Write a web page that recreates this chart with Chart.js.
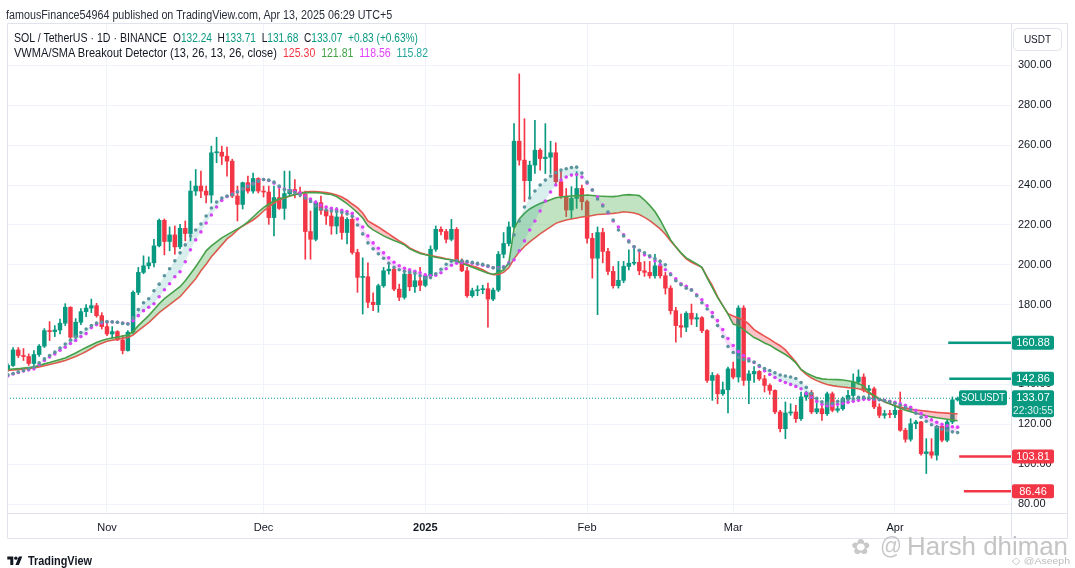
<!DOCTYPE html>
<html>
<head>
<meta charset="utf-8">
<title>SOL / TetherUS 1D</title>
<script src="https://cdn.jsdelivr.net/npm/chart.js@4.4.1/dist/chart.umd.min.js"></script>
<style>
  html, body { margin: 0; padding: 0; background: #fff; }
  body { width: 1075px; height: 568px; position: relative; overflow: hidden; font-family: 'Liberation Sans', 'Noto Sans', sans-serif; color: #131722; }
  #chart { position: absolute; left: 0; top: 0; }
  .t { position: absolute; white-space: pre; transform-origin: 0 50%; line-height: 1; }
  .up { color: #089981; }
</style>
</head>
<body>
<canvas id="chart" width="1075" height="568"></canvas>

<div class="t" data-w="386" style="left:6px;top:15px;font-size:12.5px;color:#2a2e39">famousFinance54964 published on TradingView.com, Apr 13, 2025 06:29 UTC+5</div>
<div class="t" data-w="153" style="left:14px;top:38px;font-size:12px">SOL / TetherUS · 1D · BINANCE</div>
<div class="t" id="ohlc" data-w="245" style="left:173px;top:38px;font-size:12px"></div>
<div class="t" data-w="263" style="left:14px;top:53px;font-size:12px">VWMA/SMA Breakout Detector (13, 26, 13, 26, close)</div>
<div class="t" id="maValues" data-w="145" style="left:283px;top:53px;font-size:12px"></div>

<svg style="position:absolute;left:7px;top:556px" width="16" height="9" viewBox="0 0 36 21">
  <path d="M14 21H7V8H0V1h14z M27 21h-8l8-20h8z" fill="#131722"/>
  <circle cx="20" cy="5" r="4" fill="#131722"/>
</svg>
<div class="t" data-w="64" style="left:28px;top:561px;font-size:12px;font-weight:bold">TradingView</div>

<div class="t" data-w="20" style="left:851px;top:546px;font-size:21px;color:#c8c8c8">✿</div>
<div class="t" data-w="22" style="left:880px;top:546px;font-size:23px;color:#c8c8c8">@</div>
<div class="t" data-w="161" style="left:907px;top:546px;font-size:25px;color:#c4c4c4;text-shadow:0 0 2px #fff">Harsh dhiman</div>
<div class="t" data-w="58" style="left:1012px;top:561px;font-size:9.5px;color:#bdbdbd">◇ @Aseeph</div>

<script>
// daily candles from 2024-10-12 (index 0) to 2025-04-13 (index 183)
const monthTickIdx = [20, 50, 81, 112, 140, 171];
const monthTickLabels = ['Nov', 'Dec', '2025', 'Feb', 'Mar', 'Apr'];
const priceTicks = [80, 100, 120, 140, 160, 180, 200, 220, 240, 260, 280, 300];

const opens = [
  145,147.5,149.5,157.3,154.5,154,150.5,155,159.2,167,
  166.5,167.3,170.7,178.7,163.7,171.2,176.5,178.3,179.5,174.5,
  169,165.3,166.5,162.3,157,166.2,186.2,196.2,199.5,201,
  209.5,222.3,211.7,215,209,218.3,215.7,237,239.5,237,
  235,256.2,256.5,254.5,252,234.5,230.3,241.2,237,243.3,
  237,236.5,223.7,233.7,228.3,235.7,237.8,236.5,235.5,216.7,
  212.8,231.2,227.3,224.5,219.5,224,216.2,222.8,206.2,193.7,
  194,181.2,180,189.5,197,197.8,187.8,183.7,195.3,189,
  192,189.7,194.5,207.8,217.8,216.7,212.8,217.8,202,197,
  184.5,187,187.5,188,182.8,187.3,205.3,210.7,219,262,
  252.5,242.2,250,257.5,253.3,254,256.2,241.7,234.5,227.5,
  233.3,238.3,231.7,213.3,203.3,216.2,206.7,196.7,189.5,192.2,
  199.2,200.8,201.2,197,196.2,194.5,199.5,194.5,188.3,177,
  169.5,168.7,175.7,172.8,173.5,167,142,144.5,135.3,137.3,
  147.8,143.7,178.3,142,145.3,146.5,142.8,139.5,137,126.2,
  117.8,125.7,126.2,122.8,133.7,135.8,126.2,127.8,125.3,135.3,
  127,127.8,132.8,134.5,141.2,143.7,137,137.8,128.7,124.5,
  125.3,124.9,127,117,112.5,120.3,121.2,105.3,106.2,104.5,
  119,112,121.2,132.24
];
const highs = [
  148.5,150.5,158.5,158.5,158,155.3,157,160,168,171.5,
  169.5,172.8,180.5,179,173,178,180,182.8,180.7,176,
  171,169,167,164.5,167,187,198.7,204.5,204,212.8,
  223,223,219,219.5,220.3,222,242,247.8,247,239.5,
  259.5,264,259.5,259,253,239.5,241.5,244.5,246,243.7,
  239.5,239.5,239.5,238.7,247,247,242.8,239,237,227,
  232,234.5,229.5,227,228.7,225.3,223.7,224,207.8,203.5,
  201,186,190.3,198.7,200.3,199,190.3,196.7,197.8,195.3,
  198.7,195.3,209.5,219.5,219,217.8,222.8,218.7,203,198.7,
  188.3,189.5,189.8,190.8,188.3,206.7,216.2,221.5,270.8,295.8,
  273.3,252,272.5,258.3,270.8,262,261.2,247.5,238.3,239.2,
  246.7,240,232.5,215.8,219,218.3,208.3,199.2,201.7,201.7,
  207.5,209.2,206.7,201.7,201.7,205.3,202.5,196.2,189.5,178.7,
  175.3,176.5,180.3,175.5,174,167.5,146,145.3,141.2,148.7,
  151.2,179.5,179.5,147,149,147,144.5,140.3,137.3,127,
  131.2,130.3,129.5,136.2,136.5,137,131.2,130.3,136.2,136.2,
  129,133.7,137,145.3,147.3,145.3,139.5,138.7,130.3,127,
  127,129.5,136.2,118,122.8,122,121.5,112.8,112.8,119.5,
  119.8,122,133.7,133.71
];
const lows = [
  144,146.5,149,153.5,152,149.5,149.5,154,158.5,162,
  164,165.3,169.5,163,162.5,170,174,176,173.7,167.8,
  164.5,163.3,162,155.3,156.7,165.5,185,195.5,198,199,
  209,205,207,205.3,208,212,212,234.8,233.7,231,
  231,251.2,250.3,244.5,233.7,222,228,236,236,236,
  234,220.3,214.5,227.8,222.8,234.3,233.5,234,202.8,202.8,
  212,225.3,220.3,215.3,215.5,212.8,210.5,205.3,186.2,175.3,
  178.5,177,176.2,188.7,195.3,187,182,182.8,187,186.2,
  187,189,193.7,206.7,215,211,212,201.2,196.5,183.7,
  183.7,184.5,185.5,168.7,182,186.5,203.5,209.5,218.3,250,
  231.7,234.2,245.8,247.5,245.8,245.8,240,233.3,224.2,223.3,
  228.3,227.5,210.8,193.3,175,201,195,188.3,188.3,191,
  197.5,200,195,194.2,193.3,193.3,193.3,185.3,175.3,161.2,
  163.7,166.5,170,169,166,141,132,130.3,134.5,125.7,
  142.8,141.2,139.5,130.3,141,142,136.2,135,125.3,116.2,
  112.8,124.5,121,122,132,125.3,125.3,122,124.5,126.2,
  126,127,132,133.7,140,136.2,134.5,127.8,123.3,123,
  123.3,123.3,116.5,111,111.5,117.8,104.5,95.3,103,102,
  111.2,111.2,120.3,131.68
];
const closes = [
  147.5,149.5,157.3,154.5,154,150.5,155,159.2,167,166.5,
  167.3,170.7,178.7,163.7,171.2,176.5,178.3,179.5,174.5,169,
  165.3,166.5,162.3,157,166.2,186.2,196.2,199.5,201,209.5,
  222.3,211.7,215,209,218.3,215.7,237,239.5,237,235,
  256.2,256.5,254.5,252,234.5,230.3,241.2,237,243.3,237,
  236.5,223.7,233.7,228.3,235.7,237.8,236.5,235.5,216.7,212.8,
  231.2,227.3,224.5,219.5,224,216.2,222.8,206.2,193.7,194,
  181.2,180,189.5,197,197.8,187.8,183.7,195.3,189,192,
  189.7,194.5,207.8,217.8,216.7,212.8,217.8,202,197,184.5,
  187,187.5,188,182.8,187.3,205.3,210.7,219,262,252.5,
  242.2,250,257.5,253.3,254,256.2,241.7,234.5,227.5,233.3,
  238.3,231.7,213.3,203.3,216.2,206.7,196.7,189.5,192.2,199.2,
  200.8,201.2,197,196.2,194.5,199.5,194.5,188.3,177,169.5,
  168.7,175.7,172.8,173.5,167,142,144.5,135.3,137.3,147.8,
  143.7,178.3,142,145.3,146.5,142.8,139.5,137,126.2,117.8,
  125.7,126.2,122.8,133.7,135.8,126.2,127.8,125.3,135.3,127,
  127.8,132.8,134.5,141.2,143.7,137,137.8,128.7,124.5,125.3,
  124.9,127,117,112.5,120.3,121.2,105.3,106.2,104.5,119,
  112,121.2,132.24,133.07
];

// indicator plots
const smaLong = [   // red line
  146.8,147,147.2,147.4,147.7,148,148.3,148.8,149.4,150,
  150.6,151.3,152,153,154,155.2,156.5,158,159.5,160.7,
  161.7,162.2,162.7,163.2,163.6,164.8,167,169,171,173.5,
  176,178,180,182,184,187,190,193,197,200.3,
  204,207,210,213,215,217.5,219.5,221,222.5,224.5,
  227,229,231,232.5,233.5,234.5,235.3,236,236.5,236.7,
  236.7,236.5,236.2,235.8,235,234,232.5,230.5,228.7,226,
  222,220.5,219,217.2,215.5,213.7,212,210.5,208.5,207.2,
  206,205.3,204.7,204.2,203.7,203,202.5,201.8,201,200.2,
  199.4,198.7,197.5,196,195,195.2,196.2,198.5,203,206.5,
  209.2,211.5,213.5,215.5,217.3,219,220.8,221.7,222.5,223,
  223.5,224,224.3,224.7,225.2,225.4,225.6,225.8,226.1,226.6,
  226.4,226,225.2,223.8,222.2,220.2,218,215.3,212,209,
  205.8,203,201.3,200,198.7,194,189.5,184,179.5,175.5,
  174.3,173.3,172.3,170.2,167.5,165.8,164.2,162.7,161,159.4,
  157.3,154.2,151.2,147.4,145,143.2,141.9,140.8,140,139.4,
  139,138.7,138.4,138.2,137.8,137.2,135.6,134.2,132.8,131.2,
  130.3,129.4,128.6,128,127.6,127.2,126.9,126.6,126.3,126,
  125.8,125.6,125.4,125.3
];
const vwmaLong = [  // green line
  147.3,147.5,147.7,147.9,148.2,148.5,148.8,149.5,150.3,151,
  151.8,152.5,153.3,154.5,155.8,157.2,158.5,159.8,161,162,
  162.8,163.3,163.8,164.3,164.8,166.5,169.5,172,174.5,177.5,
  180.5,183,185,187,189,192,195.5,199,203,207,
  209.5,211.5,213.5,215,216.5,218,219.5,221.5,224,226.5,
  228.7,230.5,232,233,233.8,234.5,235.2,235.8,236.2,236.3,
  236.2,236,235.6,235.3,234.2,232.5,230.7,228.5,226.2,223.5,
  219.5,217.5,216,214.5,213.3,212.2,211.2,210,208,206.8,
  205.7,205,204.4,203.8,203.3,202.8,202.5,201.8,200.8,199.8,
  198.8,197.8,196.8,195.8,195.3,196,197.5,201,218,223,
  225.8,228,229.5,230.8,231.7,232.6,233.6,234,234.3,234.5,
  234.7,234.8,235,234.8,234.5,234.4,234.3,234.2,234.5,235,
  235.2,235,234.7,232.5,229.8,226.7,222.5,217.5,212.5,209,
  206,203.5,202,200.5,198.7,193.5,188.5,183.7,179.5,175.3,
  170.3,169.5,167.5,165.5,163.5,162.3,160.8,159.7,158,156.5,
  155,153.2,150.8,147.5,145.8,144.5,143.4,142.8,142.6,142.5,
  142.4,142.2,141.8,141.3,140.5,139.3,136.3,134.3,132.8,131.4,
  130.3,129.2,128,127.1,126.3,125.5,124.9,124.3,123.7,123.3,
  122.9,122.5,122.1,121.81
];
const smaShort = [  // magenta dots
  143.5,144.3,145.2,146,146.7,147.3,147.8,150,152,153.8,
  155.3,157.2,158.7,160.5,162,164,165.5,168.5,170,170.8,
  171.3,171.3,171.2,170.8,170.4,172,174.5,177,178.7,180.5,
  184,187.5,190.5,194,196.5,201.5,207.5,212.5,216.5,221,
  225,229,232.3,234.3,235.5,236.7,238,239.5,240.8,242,
  242.8,242.3,241,239,238,237.2,236.8,236,234.5,233,
  231.5,230,229,228.3,227.8,227.3,226.7,225.8,223,219,
  214.5,211,208.3,206,203.5,201.3,199.5,198.3,197.5,196.8,
  196,195,194.5,194.8,196,198,199.8,200.8,201.2,201.2,
  200.8,200.3,199.8,199.2,198.5,198.5,199,201,202.5,207,
  212,217.5,222,227,232,236.5,240,242.5,244,245,
  245.3,244,241,237.5,234,230,226,222,219,215,
  212,209,207,205,204,202,200,197.5,195.5,193,
  190.5,189.2,187.5,185,182.5,179.5,176,172,167.5,163,
  159.5,156.5,154.5,152.8,151,149,146.8,145,143.5,142,
  141,140,139,137.8,135.5,133.5,131.5,130,129.3,129.5,
  130,130.5,131,131.5,132,132.5,132.5,132.5,132.3,132,
  131.5,131,130.3,129.5,128.5,127,125.5,123.8,122.2,121,
  120,119.3,118.8,118.56
];
const vwmaShort = [ // teal dots
  144,144.8,145.5,146.2,147,147.8,148.7,150.8,152.8,154.5,
  156.2,158.3,160.3,162.2,164,166,167.8,169.5,170.8,171.3,
  171.5,171.4,171.2,170.6,170.3,173.5,177.5,181,183,187,
  190.3,194.5,198,202,206,210,214.5,217.5,220.5,224.5,
  228.5,231.5,233.5,234.5,235.2,236.5,238,239.3,240.5,242,
  242.8,242.5,241.5,239.5,237.8,237,236.2,235,233.5,231.8,
  229.5,228,227.5,227,226.7,226.2,225.5,224.3,220,215.5,
  211,208,205.5,203.3,200.8,198.7,197.5,196.8,196.2,195.7,
  194.5,193.2,193.5,195.5,197.8,200.3,201.8,202.2,202,201.7,
  201.2,200.7,200.2,199.5,198.5,198.3,198.7,200.5,215,222,
  229,233.5,237,240,242.5,244.5,246.3,247.5,248.2,248.8,
  249,246,241.5,237.5,233,229.5,226.5,222.5,217.5,214.5,
  211.5,209,207.3,206,204.5,203.2,201.8,200,195,192,
  190,188.3,187.3,184.5,181,177.8,174,169.5,164,159,
  156,153.5,152.5,151.8,151.2,149.5,148,147,145.8,144.7,
  144.2,143.7,143,141,138.5,135.5,133,131.3,130.5,130.5,
  131.5,132.2,132.5,132.8,133.5,133.7,133.3,132.8,132.3,131.8,
  131.3,130.5,129.5,128.5,127.3,125.5,123.5,121.5,119.8,118.5,
  117.5,116.8,116.2,115.82
];

// target / stop levels marked at the right edge
const levelValues = [160.88, 142.86, 103.81, 86.46];
const levelIsUp = [true, true, false, false];
const countdown = '22:30:55';

const UP = '#089981';
const DOWN = '#f23645';
const X_MIN = 0.84;
const X_MAX = 193.23;
const levelStart = [181.2, 181.4, 183.3, 184.2];

const last = closes.length - 1;
const change = closes[last] - closes[last - 1];

document.getElementById('ohlc').innerHTML =
  `O<span class="up">${opens[last].toFixed(2)}</span>  H<span class="up">${highs[last].toFixed(2)}</span>  ` +
  `L<span class="up">${lows[last].toFixed(2)}</span>  C<span class="up">${closes[last].toFixed(2)}</span>  ` +
  `<span class="up">+${change.toFixed(2)} (+${(change / closes[last - 1] * 100).toFixed(2)}%)</span>`;
document.getElementById('maValues').innerHTML =
  `<span style="color:#f23645">${smaLong[last].toFixed(2)}</span>  ` +
  `<span style="color:#43a047">${vwmaLong[last].toFixed(2)}</span>  ` +
  `<span style="color:#e040fb">${smaShort[last].toFixed(2)}</span>  ` +
  `<span style="color:#26a69a">${vwmaShort[last].toFixed(2)}</span>`;

const candleColor = ctx => closes[ctx.dataIndex] >= opens[ctx.dataIndex] ? UP : DOWN;
const toPoints = arr => arr.map((v, i) => ({ x: i, y: v }));

const levelSets = levelValues.map((v, k) => ({
  type: 'line',
  data: [{ x: levelStart[k], y: v }, { x: X_MAX, y: v }],
  borderColor: levelIsUp[k] ? UP : DOWN,
  borderWidth: 2.5,
  pointRadius: 0,
  order: 1
}));

function roundRect(ctx, x, y, w, h, r) {
  ctx.beginPath();
  ctx.moveTo(x + r, y);
  ctx.arcTo(x + w, y, x + w, y + h, r);
  ctx.arcTo(x + w, y + h, x, y + h, r);
  ctx.arcTo(x, y + h, x, y, r);
  ctx.arcTo(x, y, x + w, y, r);
  ctx.closePath();
}

const overlay = {
  id: 'overlay',
  afterDraw(chart) {
    const { ctx, chartArea: a } = chart;
    const yScale = chart.scales.y;
    ctx.save();

    // frame around plot and axes
    ctx.strokeStyle = '#e0e3eb';
    ctx.lineWidth = 1;
    ctx.beginPath();
    ctx.moveTo(7.5, 23.5); ctx.lineTo(1067.5, 23.5);
    ctx.lineTo(1067.5, 538.5); ctx.lineTo(7.5, 538.5); ctx.lineTo(7.5, 23.5);
    ctx.moveTo(a.right, a.bottom + 0.5); ctx.lineTo(1067.5, a.bottom + 0.5);
    ctx.moveTo(a.right + 0.5, a.bottom); ctx.lineTo(a.right + 0.5, 538.5);
    ctx.stroke();

    // currency box
    roundRect(ctx, 1013.5, 28.5, 48, 22, 4);
    ctx.stroke();
    ctx.fillStyle = '#131722';
    ctx.font = '10px "Liberation Sans", sans-serif';
    ctx.textAlign = 'center';
    ctx.textBaseline = 'middle';
    ctx.fillText('USDT', 1037.5, 40);

    ctx.font = '11px "Liberation Sans", sans-serif';
    // level labels on the price axis
    levelValues.forEach((v, k) => {
      const py = yScale.getPixelForValue(v);
      ctx.fillStyle = levelIsUp[k] ? UP : DOWN;
      roundRect(ctx, a.right + 1, py - 7, 42, 14, 2);
      ctx.fill();
      ctx.fillStyle = '#fff';
      ctx.fillText(v.toFixed(2), a.right + 22, py + 0.5, 38);
    });

    // last price label + countdown
    const lp = yScale.getPixelForValue(closes[last]);
    ctx.fillStyle = UP;
    roundRect(ctx, a.right + 1, lp - 8, 42, 27, 2);
    ctx.fill();
    ctx.fillStyle = '#fff';
    ctx.fillText(closes[last].toFixed(2), a.right + 22, lp, 38);
    ctx.fillStyle = 'rgba(255,255,255,0.85)';
    ctx.fillText(countdown, a.right + 22, lp + 12.5, 40);

    // symbol tag
    ctx.fillStyle = UP;
    roundRect(ctx, a.right - 52, lp - 8, 48, 15, 2);
    ctx.fill();
    ctx.fillStyle = '#fff';
    ctx.fillText('SOLUSDT', a.right - 28, lp, 44);

    ctx.restore();
  }
};

new Chart(document.getElementById('chart'), {
  type: 'bar',
  data: {
    datasets: [
      {
        label: 'wick',
        data: closes.map((_, i) => ({ x: i, y: [lows[i], highs[i]] })),
        backgroundColor: candleColor,
        barThickness: 1,
        grouped: false,
        order: 10
      },
      {
        label: 'body',
        data: closes.map((_, i) => ({ x: i, y: [opens[i], closes[i]] })),
        backgroundColor: candleColor,
        barThickness: 3.8,
        minBarLength: 1,
        grouped: false,
        order: 9
      },
      {
        type: 'line',
        label: 'VWMA 26',
        data: toPoints(vwmaLong),
        borderColor: '#46a04a',
        borderWidth: 1.6,
        pointRadius: 0,
        fill: { target: 3, above: 'rgba(76,175,80,0.35)', below: 'rgba(242,54,69,0.3)' },
        order: 6
      },
      {
        type: 'line',
        label: 'SMA 26',
        data: toPoints(smaLong),
        borderColor: '#ef5350',
        borderWidth: 1.6,
        pointRadius: 0,
        fill: false,
        order: 7
      },
      {
        type: 'line',
        label: 'VWMA 13',
        data: toPoints(vwmaShort),
        borderColor: 'rgba(0,0,0,0)',
        borderWidth: 0,
        pointRadius: 1.8,
        pointBorderWidth: 0,
        pointBackgroundColor: '#5b949c',
        fill: { target: 5, above: 'rgba(38,166,154,0.18)', below: 'rgba(224,64,251,0.2)' },
        order: 3
      },
      {
        type: 'line',
        label: 'SMA 13',
        data: toPoints(smaShort),
        borderColor: 'rgba(0,0,0,0)',
        borderWidth: 0,
        pointRadius: 1.8,
        pointBorderWidth: 0,
        pointBackgroundColor: '#e040fb',
        fill: false,
        order: 4
      },
      ...levelSets,
      {
        type: 'line',
        label: 'last',
        data: [{ x: X_MIN, y: closes[last] }, { x: X_MAX, y: closes[last] }],
        borderColor: UP,
        borderWidth: 1,
        borderDash: [1, 2],
        pointRadius: 0,
        order: 2
      }
    ]
  },
  options: {
    responsive: false,
    animation: false,
    layout: { autoPadding: false, padding: { left: 7, right: 0, top: 24, bottom: 30 } },
    plugins: { legend: { display: false }, tooltip: { enabled: false } },
    scales: {
      x: {
        type: 'linear',
        min: X_MIN,
        max: X_MAX,
        offset: false,
        afterBuildTicks: s => { s.ticks = monthTickIdx.map(v => ({ value: v })); },
        afterFit: s => { s.height = 25; },
        grid: { color: '#f0f3fa', offset: false, drawTicks: false },
        border: { display: true, color: '#e0e3eb' },
        ticks: {
          padding: 8,
          autoSkip: false,
          maxRotation: 0,
          color: '#131722',
          callback: (v, i) => monthTickLabels[i],
          font: c => ({ family: '"Liberation Sans", sans-serif', size: 11, weight: monthTickLabels[c.index] === '2025' ? 'bold' : 'normal' })
        }
      },
      y: {
        position: 'right',
        min: 75.5,
        max: 320.8,
        afterBuildTicks: s => { s.ticks = priceTicks.map(v => ({ value: v })); },
        afterFit: s => { s.width = 64; },
        grid: { color: '#f0f3fa', drawTicks: false },
        border: { display: true, color: '#e0e3eb' },
        ticks: {
          padding: 7,
          color: '#131722',
          font: { family: '"Liberation Sans", sans-serif', size: 11 },
          callback: v => v.toFixed(2)
        }
      }
    }
  },
  plugins: [overlay]
});

// squeeze each text run to the width it has in the screenshot
document.querySelectorAll('.t').forEach(el => {
  const w = +el.dataset.w;
  const r = el.getBoundingClientRect().width;
  el.style.transform = `translateY(-50%) scaleX(${(w / r).toFixed(3)})`;
});
</script>
</body>
</html>
